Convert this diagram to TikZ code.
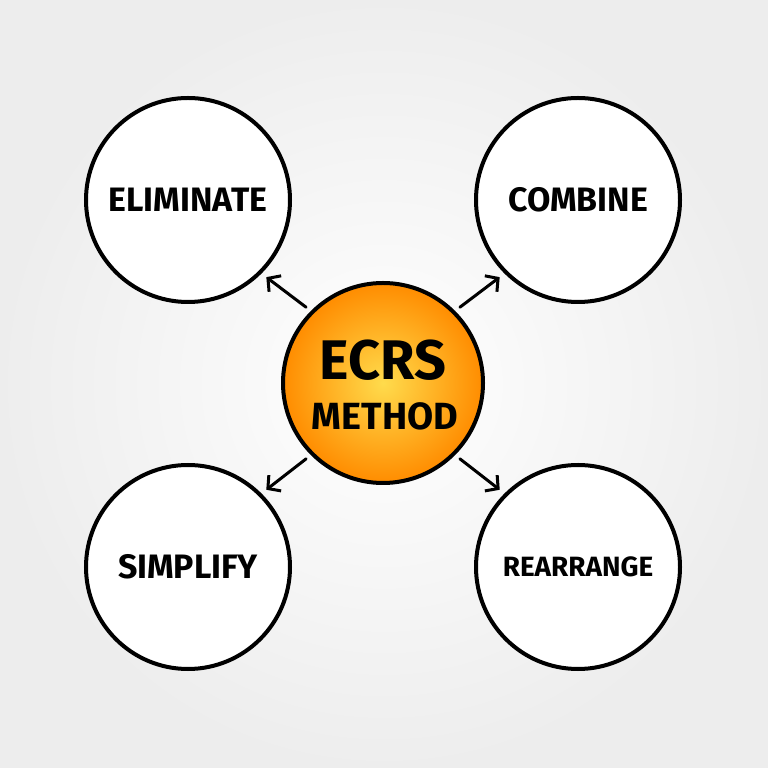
\documentclass[tikz,border=0pt]{standalone}
\usepackage{fontspec}
\setmainfont{Fira Sans}
\usetikzlibrary{arrows.meta}
\begin{document}
\begin{tikzpicture}[x=1bp,y=1bp,
  outer/.style={circle,draw=black,line width=4bp,minimum size=204bp,fill=white,inner sep=0pt},
  lbl/.style={font=\fontsize{34}{36}\selectfont\bfseries},
  arr/.style={-{Straight Barb[length=9bp,width=20bp,line width=3bp]},line width=3bp,line cap=round}]
\useasboundingbox (0,0) rectangle (768,768);
\shade[inner color=white,outer color=gray!14] (0,0) rectangle (768,768);
\node[outer] (e) at (188,568) {};
\node[lbl] at (e) {ELIMINATE};
\node[outer] (c) at (578,568) {};
\node[lbl] at (c) {COMBINE};
\node[outer] (s) at (188,201) {};
\node[lbl] at (s) {SIMPLIFY};
\node[outer] (r) at (578,201) {};
\node[lbl,font=\fontsize{28}{30}\selectfont\bfseries] at (r) {REARRANGE};
\node[circle,draw=black,line width=4bp,minimum size=200bp,inner color=yellow!60!orange!70,outer color=orange!90!yellow,inner sep=0pt] (m) at (383,385) {};
\node[font=\fontsize{56}{56}\selectfont\bfseries] at (383,408) {ECRS};
\node[font=\fontsize{38}{38}\selectfont\bfseries] at (385,352) {METHOD};
\draw[arr,shorten <=6bp,shorten >=6bp] (m.135) -- (e.-45);
\draw[arr,shorten <=6bp,shorten >=6bp] (m.45) -- (c.-135);
\draw[arr,shorten <=6bp,shorten >=6bp] (m.-135) -- (s.45);
\draw[arr,shorten <=6bp,shorten >=6bp] (m.-45) -- (r.135);
\end{tikzpicture}
\end{document}
